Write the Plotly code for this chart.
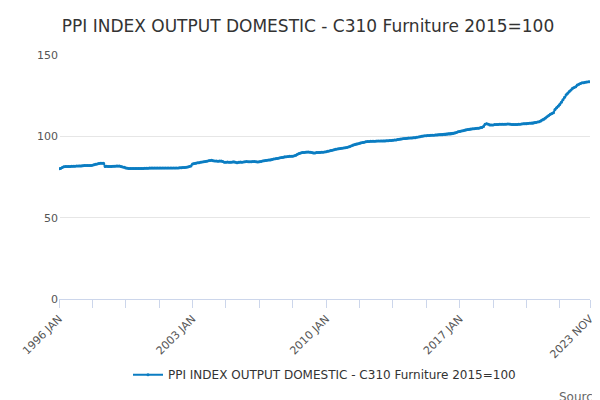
import plotly.graph_objects as go

values = [
80,80.2,80.8,81.3,81.5,81.5,81.5,81.5,81.6,81.6,81.6,81.7,
81.7,81.8,81.8,81.9,82,82,82,82,82.1,82.2,82.5,82.8,
83,83.3,83.5,83.5,83.5,81.5,81.6,81.5,81.5,81.5,81.6,81.6,
81.7,81.8,81.8,81.5,81.2,81,80.6,80.4,80.3,80.3,80.3,80.3,
80.2,80.2,80.3,80.3,80.3,80.3,80.4,80.4,80.4,80.5,80.5,80.5,
80.6,80.6,80.6,80.6,80.6,80.6,80.6,80.5,80.5,80.5,80.6,80.6,
80.6,80.6,80.6,80.6,80.7,80.7,80.8,80.8,81,81.2,81.5,81.8,
83,83.3,83.5,83.7,83.8,84,84.2,84.3,84.5,84.7,85,85.2,
85.3,85,84.8,84.8,84.7,84.8,84.8,84.5,84,84,84.2,84,
84,84.2,84.3,84,83.8,84,84.2,84,84.2,84.3,84.5,84.4,
84.3,84.4,84.5,84.5,84.4,84.2,84.3,84.5,84.8,85,85.2,85.3,
85.4,85.5,85.7,86,86.2,86.4,86.6,86.8,87,87.2,87.4,87.5,
87.6,87.7,87.8,87.8,88,88.3,89,89.5,89.8,90,90,90.2,
90.3,90.4,90.2,90,89.8,89.8,90,90,90.1,90.2,90.2,90.3,
90.5,90.8,91,91.3,91.5,91.8,92,92.2,92.4,92.5,92.6,92.8,
93,93.2,93.5,93.8,94.2,94.6,95,95.3,95.5,95.8,96,96.2,
96.4,96.6,96.8,96.9,97,97,97,97,97.1,97.1,97.1,97.2,
97.2,97.2,97.3,97.3,97.4,97.5,97.6,97.7,97.8,98,98.2,98.4,
98.5,98.6,98.7,98.8,98.9,99,99,99.1,99.2,99.4,99.6,99.8,
100,100.2,100.3,100.4,100.5,100.5,100.6,100.6,100.7,100.8,100.8,100.9,
101,101,101.1,101.2,101.3,101.4,101.5,101.6,101.8,102,102.3,102.8,
103,103.3,103.5,103.8,104,104.2,104.4,104.5,104.6,104.6,104.8,105,
105,105.2,105.5,106,107.5,107.8,107.5,107,107,107,107.2,107.3,
107.3,107.4,107.4,107.5,107.5,107.5,107.6,107.6,107.5,107.3,107.2,107.3,
107.3,107.4,107.5,107.6,107.7,107.8,107.8,107.9,108,108,108.1,108.3,
108.5,108.8,109,109.5,110,110.5,111.2,112,112.8,113.5,114,114.5,
116.5,117.5,118.5,119.5,121,122.5,124,125.5,126.5,127.5,128.5,129.5,
130,130.5,131.5,132,132.5,133,133,133.2,133.4,133.5,133.5,
]
months = ["JAN","FEB","MAR","APR","MAY","JUN","JUL","AUG","SEP","OCT","NOV","DEC"]
labels = [f"{1996 + i//12} {months[i%12]}" for i in range(len(values))]
shown_labels = ["1996 JAN", "2003 JAN", "2010 JAN", "2017 JAN", "2023 NOV"]
idx = list(range(len(values)))
name = "PPI INDEX OUTPUT DOMESTIC - C310 Furniture 2015=100"

tickvals = list(range(0, len(values), 21)) + [len(values) - 1]
ticktext = [labels[i] if labels[i] in shown_labels else "" for i in tickvals]

color = "#0b7dc2"
fig = go.Figure(go.Scatter(
    x=idx, y=values, mode="lines+markers", name=name,
    line=dict(color=color, width=2), marker=dict(color=color, size=3),
))
fig.update_layout(
    width=600, height=400, plot_bgcolor="white", paper_bgcolor="white",
    font=dict(family="DejaVu Sans", color="#555"),
    title=dict(text=name, x=0.5, y=0.955, xanchor="center", yanchor="middle",
               font=dict(size=17, color="#333")),
    margin=dict(l=46, r=17, t=47, b=109),
    showlegend=True,
    legend=dict(orientation="h", x=0.5, xanchor="center", y=-0.31, yanchor="middle",
                font=dict(size=12, color="#333")),
    annotations=[dict(text="Source:", x=1.03, y=-0.40, xref="paper", yref="paper",
                      xanchor="right", yanchor="middle", showarrow=False,
                      font=dict(size=12, color="#666"))],
)
fig.update_xaxes(range=[0, len(values) - 1], tickvals=tickvals, ticktext=ticktext,
                 tickangle=-45, ticks="outside", ticklen=8, tickcolor="#ccd6eb",
                 showline=True, linecolor="#ccd6eb", showgrid=False,
                 tickfont=dict(size=11, color="#555"))
fig.update_yaxes(range=[0, 150], tickvals=[0, 50, 100, 150], showgrid=True,
                 gridcolor="#e6e6e6", zeroline=False,
                 tickfont=dict(size=11, color="#555"))
fig.write_html("out.html")
